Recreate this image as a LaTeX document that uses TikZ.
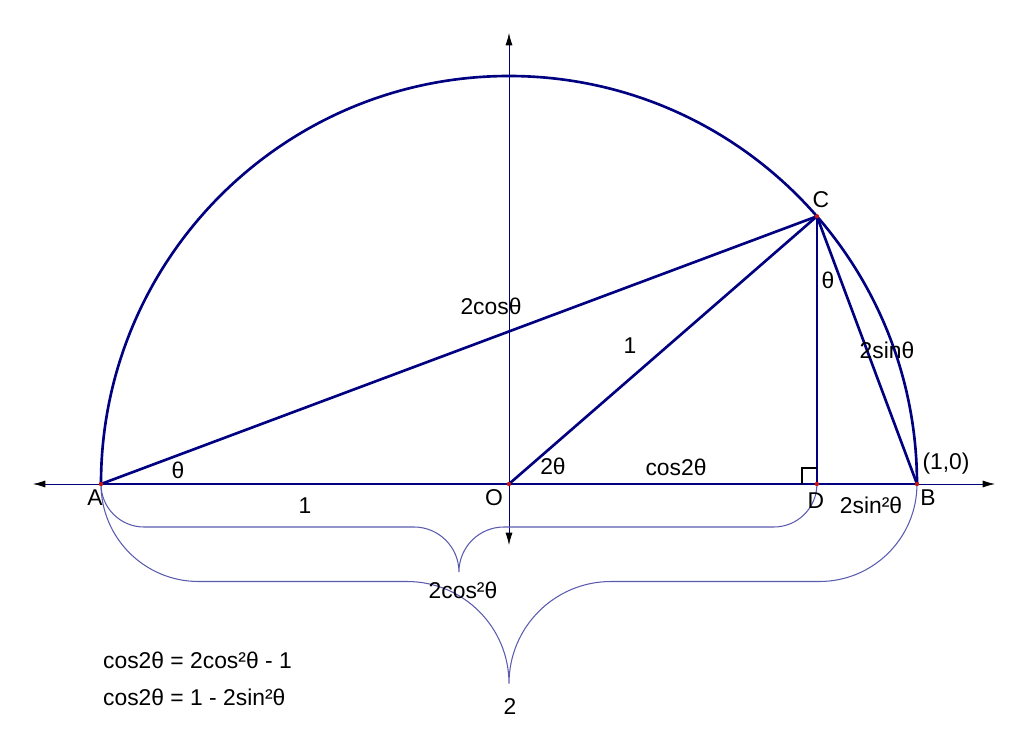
\documentclass[tikz,border=0pt]{standalone}
\usepackage{fontspec}
\setmainfont{Liberation Sans}
\usetikzlibrary{arrows.meta,calc}
\definecolor{navyline}{RGB}{0,0,128}
\definecolor{bracecol}{RGB}{90,90,175}
\definecolor{ptred}{RGB}{200,20,20}
\begin{document}
\begin{tikzpicture}[font=\fontsize{13}{15.5}\selectfont,
  seg/.style={navyline,line width=1.5pt},
  axis/.style={navyline,line width=0.4pt,{Latex[black,length=7pt,width=4pt]}-{Latex[black,length=7pt,width=4pt]}},
  brace/.style={bracecol,line width=0.6pt},
  pt/.style={circle,fill=ptred,inner sep=0pt,minimum size=2.5pt}]
\useasboundingbox (-10.18,-5.18) rectangle (10.3,9.68);
\coordinate (O) at (0,0);
\coordinate (A) at (-8.16,0);
\coordinate (B) at (8.16,0);
\coordinate (C) at (41:8.16);
\coordinate (D) at (C |- O);
\coordinate (xl) at (-9.52,0);
\coordinate (xr) at (9.72,0);
\coordinate (yb) at (0,-1.22);
\coordinate (yt) at (0,9.02);
%
\draw[axis] (xl) -- (xr);
\draw[axis] (yb) -- (yt);
%
\draw[seg] (B) arc[start angle=0,end angle=180,radius=8.16];
\draw[seg] (A) -- (B);
\draw[seg] (A) -- (C);
\draw[seg] (O) -- (C);
\draw[seg] (C) -- (D);
\draw[seg] (C) -- (B);
\draw[black,line width=1.6pt] ([xshift=-0.3cm]D) -- ++(0,0.32) -- ++(0.3,0);
%
\draw[brace] (A) arc[start angle=180,end angle=270,radius=0.86]
  -- ($(A)!0.5!(D)+(-0.9,-0.86)$) arc[start angle=90,end angle=0,radius=0.9]
  coordinate (tipAD) arc[start angle=180,end angle=90,radius=0.9]
  -- ($(D)+(-0.86,-0.86)$) arc[start angle=270,end angle=360,radius=0.86];
\draw[brace] (A) arc[start angle=180,end angle=270,radius=1.95]
  -- ($(A)!0.5!(B)+(-2.04,-1.95)$) arc[start angle=90,end angle=0,radius=2.04]
  coordinate (tipAB) arc[start angle=180,end angle=90,radius=2.04]
  -- ($(B)+(-1.95,-1.95)$) arc[start angle=270,end angle=360,radius=1.95];
%
\node at (A) [pt] (dA) {};
\node at (B) [pt] (dB) {};
\node at (C) [pt] (dC) {};
\node at (D) [pt] (dD) {};
\node at (O) [pt] (dO) {};
%
\node at (-8.28,-0.27) (lA) {A};
\node at (-0.30,-0.27) (lO) {O};
\node at (6.14,-0.33) (lD) {D};
\node at (8.38,-0.27) (lB) {B};
\node at (6.24,5.68) (lC) {C};
\node at (8.74,0.40) (lone) {(1,0)};
%
\node at (-6.62,0.28) (tA) {θ};
\node at (-4.08,-0.44) (sAO) {1};
\node at (-0.36,3.56) (sAC) {2cosθ};
\node at (2.42,2.76) (sOC) {1};
\node at (0.88,0.36) (tO) {2θ};
\node at (3.34,0.34) (sOD) {cos2θ};
\node at (6.38,4.08) (tC) {θ};
\node at (7.56,2.68) (sCB) {2sinθ};
\node at (7.24,-0.42) (sDB) {2sin²θ};
\node at (-0.92,-2.12) (bAD) {2cos²θ};
\node at (0.02,-4.46) (bAB) {2};
%
\node at (-8.24,-3.52) [anchor=west] (eqa) {cos2θ = 2cos²θ - 1};
\node at (-8.24,-4.26) [anchor=west] (eqb) {cos2θ = 1 - 2sin²θ};
\end{tikzpicture}
\end{document}
